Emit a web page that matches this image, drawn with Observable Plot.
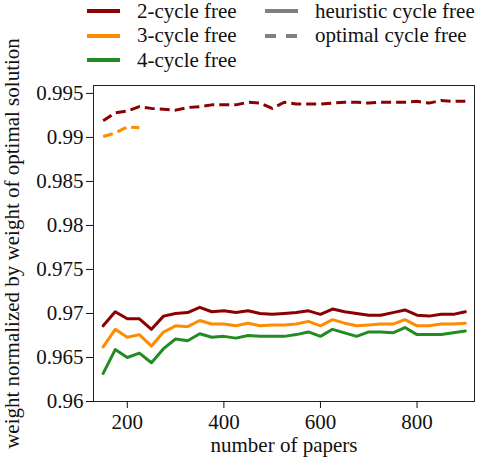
<!DOCTYPE html>
<html>
<head>
<meta charset="utf-8">
<script src="https://cdn.jsdelivr.net/npm/d3@7"></script>
<script src="https://cdn.jsdelivr.net/npm/@observablehq/plot@0.6"></script>
<style>
  body { margin: 0; background: #fff; font-family: "Liberation Serif", "Times New Roman", "DejaVu Serif", serif; }
  #legend { position: relative; height: 72px; font-size: 21px; color: #111; }
  .item { position: absolute; height: 24px; display: flex; align-items: center; white-space: nowrap; }
  .item svg { margin-right: 17px; }
</style>
</head>
<body>
<div id="legend"></div>
<div id="chart"></div>
<script>
// number of papers (x)
const papers = [150, 175, 200, 225, 250, 275, 300, 325, 350, 375, 400, 425, 450, 475, 500,
  525, 550, 575, 600, 625, 650, 675, 700, 725, 750, 775, 800, 825, 850, 875, 900]

// heuristic cycle free (solid)
const heur2 = [0.9686, 0.9702, 0.9694, 0.9694, 0.9682, 0.9697, 0.9700, 0.9701, 0.9707, 0.9702,
  0.9703, 0.9701, 0.9703, 0.9700, 0.9699, 0.9700, 0.9701, 0.9703, 0.9699, 0.9705, 0.9702,
  0.9700, 0.9698, 0.9698, 0.9701, 0.9704, 0.9698, 0.9697, 0.9699, 0.9699, 0.9702]
const heur3 = [0.9662, 0.9682, 0.9673, 0.9676, 0.9663, 0.9679, 0.9686, 0.9685, 0.9692, 0.9688,
  0.9688, 0.9686, 0.9689, 0.9686, 0.9687, 0.9687, 0.9688, 0.9691, 0.9686, 0.9693, 0.9689,
  0.9686, 0.9687, 0.9688, 0.9688, 0.9693, 0.9686, 0.9686, 0.9688, 0.9688, 0.9689]
const heur4 = [0.9632, 0.9659, 0.9650, 0.9655, 0.9644, 0.9660, 0.9671, 0.9669, 0.9677, 0.9673,
  0.9674, 0.9672, 0.9675, 0.9674, 0.9674, 0.9674, 0.9676, 0.9679, 0.9674, 0.9682, 0.9678,
  0.9674, 0.9679, 0.9679, 0.9678, 0.9684, 0.9676, 0.9676, 0.9676, 0.9678, 0.9680]

// optimal cycle free (dashed)
const opt2 = [0.9919, 0.9928, 0.9930, 0.9935, 0.9933, 0.9932, 0.9931, 0.9934, 0.9935, 0.9937,
  0.9937, 0.9937, 0.9940, 0.9939, 0.9933, 0.9940, 0.9938, 0.9938, 0.9938, 0.9939, 0.9940,
  0.9940, 0.9939, 0.9940, 0.9940, 0.9940, 0.9941, 0.9939, 0.9942, 0.9941, 0.9941]
const opt3 = [0.9901, 0.9905, 0.9912, 0.9911]

const seriesNames = ['2-cycle free', '3-cycle free', '4-cycle free']
const seriesColors = ['#8b0000', '#ff8c00', '#228b22']
const kindNames = ['heuristic cycle free', 'optimal cycle free']

const xTicks = [200, 400, 600, 800]
const yTicks = [0.96, 0.965, 0.97, 0.975, 0.98, 0.985, 0.99, 0.995]

// tabla larga para Plot
const rows = []
const add = (vals, series, kind) => vals.forEach((v, i) => rows.push({papers: papers[i], value: v, series, kind}))
add(heur2, seriesNames[0], kindNames[0])
add(heur3, seriesNames[1], kindNames[0])
add(heur4, seriesNames[2], kindNames[0])
add(opt2, seriesNames[0], kindNames[1])
add(opt3, seriesNames[1], kindNames[1])

// leyenda (html, arriba del svg)
const legend = d3.select('#legend')
const swatch = (sel, color, dash) => {
  const s = sel.append('svg').attr('width', 33).attr('height', 6)
  s.append('line').attr('x1', 0).attr('x2', 33).attr('y1', 3).attr('y2', 3)
    .attr('stroke', color).attr('stroke-width', 4).attr('stroke-dasharray', dash)
}
seriesNames.forEach((name, i) => {
  const it = legend.append('div').attr('class', 'item')
    .style('left', '87px').style('top', (-1 + i * 24.5) + 'px')
  swatch(it, seriesColors[i], null)
  it.append('span').text(name)
})
kindNames.forEach((name, i) => {
  const it = legend.append('div').attr('class', 'item')
    .style('left', '265px').style('top', (-1 + i * 24.5) + 'px')
  swatch(it, '#808080', i === 0 ? null : '11,10')
  it.append('span').text(name)
})

const chart = Plot.plot({
  width: 481,
  height: 387,
  marginTop: 13,
  marginBottom: 58,
  marginLeft: 93,
  marginRight: 7,
  style: {
    fontFamily: '"Liberation Serif", "Times New Roman", "DejaVu Serif", serif',
    fontSize: '21px',
    color: '#111',
    overflow: 'visible',
    background: 'transparent',
  },
  x: { domain: [130, 919] },
  y: { domain: [0.96, 0.9959] },
  color: { domain: seriesNames, range: seriesColors },
  marks: [
    Plot.frame({ stroke: '#222' }),
    Plot.axisX({
      ticks: xTicks, tickSize: 7, tickPadding: 6,
      label: 'number of papers', labelAnchor: 'center', labelArrow: 'none', labelOffset: 50,
    }),
    Plot.axisY({
      ticks: yTicks, tickFormat: d => String(+d.toFixed(3)), tickSize: 7, tickPadding: 3,
      label: 'weight normalized by weight of optimal solution', labelAnchor: 'center', labelArrow: 'none', labelOffset: 89,
    }),
    Plot.line(rows.filter(d => d.kind === kindNames[0]), {
      x: 'papers', y: 'value', z: 'series', stroke: 'series', strokeWidth: 3,
    }),
    Plot.line(rows.filter(d => d.kind === kindNames[1]), {
      x: 'papers', y: 'value', z: 'series', stroke: 'series', strokeWidth: 3,
      strokeDasharray: '10,5', strokeLinecap: 'butt',
    }),
  ],
})
d3.select('#chart').append(() => chart)
</script>
</body>
</html>
